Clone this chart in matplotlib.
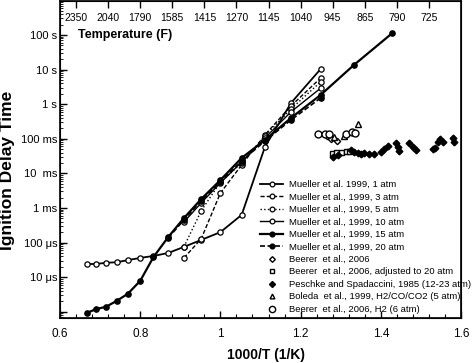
import matplotlib
matplotlib.use("Agg")
import matplotlib.pyplot as plt
from matplotlib.ticker import FixedLocator, FixedFormatter, MultipleLocator, LogLocator, NullFormatter

plt.rcParams['font.family'] = ['Liberation Sans', 'DejaVu Sans']

# ---- data ----
x_model = [0.667, 0.690, 0.714, 0.741, 0.769, 0.800, 0.833, 0.870, 0.909, 0.952,
           1.000, 1.053, 1.111, 1.176, 1.250]
t_1atm = [2.4e-5, 2.4e-5, 2.6e-5, 2.7e-5, 3.1e-5, 3.6e-5, 4.1e-5, 5.0e-5, 7.5e-5,
          1.19e-4, 2.0e-4, 6.3e-4, 0.058, 1.08, 10.4]
x_3atm = [0.909, 0.952, 1.000, 1.053, 1.111, 1.176, 1.250]
t_3atm = [3.6e-5, 1.27e-4, 2.7e-3, 0.0175, 0.129, 0.89, 5.7]
x_5atm = [0.909, 0.952, 1.000, 1.053, 1.111, 1.176, 1.250]
t_5atm = [7.5e-5, 8.2e-4, 5.6e-3, 0.020, 0.12, 0.73, 4.4]
x_10atm = [0.909, 0.952, 1.000, 1.053, 1.111, 1.176, 1.250]
t_10atm = [3.9e-4, 1.4e-3, 5.3e-3, 0.0213, 0.105, 0.60, 2.9]
x_15atm = [0.667, 0.690, 0.714, 0.741, 0.769, 0.800, 0.833, 0.870, 0.909, 0.952,
           1.000, 1.053, 1.111, 1.176, 1.250, 1.333, 1.429]
t_15atm = [9.2e-7, 1.2e-6, 1.38e-6, 2.05e-6, 3.3e-6, 7.8e-6, 3.8e-5, 1.45e-4, 5.1e-4,
           1.8e-3, 6.4e-3, 0.0279, 0.092, 0.40, 1.85, 13.6, 114.0]
x_20atm = [0.870, 0.909, 0.952, 1.000, 1.053, 1.111, 1.176, 1.250]
t_20atm = [1.36e-4, 4.5e-4, 1.6e-3, 5.6e-3, 0.0228, 0.086, 0.35, 1.51]

x_beerer = [1.265, 1.275, 1.29]
t_beerer = [0.121, 0.099, 0.086]
x_beerer_adj = [1.2775, 1.2875, 1.300, 1.3125, 1.320]
t_beerer_adj = [0.0389, 0.0415, 0.0415, 0.0444, 0.0444]
x_peschke = [1.280, 1.2925, 1.325, 1.3325, 1.3425, 1.350, 1.3575, 1.370, 1.3825, 1.400,
             1.4075, 1.4175, 1.4375, 1.4425, 1.445, 1.470, 1.480, 1.4875, 1.530, 1.535,
             1.5425, 1.5475, 1.555, 1.580, 1.5825]
t_peschke = [0.0298, 0.034, 0.0475, 0.0415, 0.0389, 0.0364, 0.0389, 0.0364, 0.0364, 0.0415,
             0.0507, 0.062, 0.0757, 0.058, 0.0444, 0.0757, 0.058, 0.0475, 0.0507, 0.0554,
             0.0809, 0.0986, 0.0809, 0.105, 0.0809]
x_boleda = [1.2825, 1.3075, 1.3425]
t_boleda = [0.11, 0.121, 0.268]
x_h2 = [1.2425, 1.260, 1.270, 1.3125, 1.3275, 1.335]
t_h2 = [0.138, 0.138, 0.138, 0.138, 0.157, 0.147]

top_tick_pos = [0.64, 0.72, 0.80, 0.88, 0.96, 1.04, 1.12, 1.20, 1.28, 1.36, 1.44, 1.52]
top_tick_labels = ['2350', '2040', '1790', '1585', '1415', '1270', '1145', '1040',
                   '945', '865', '790', '725']
y_tick_pos = [1e-6, 1e-5, 1e-4, 1e-3, 1e-2, 1e-1, 1e0, 1e1, 1e2, 1e3]
y_tick_labels = ['', '10 \u03bcs', '100 \u03bcs', '1 ms', '10  ms', '100 ms', '1 s',
                 '10 s', '100 s', '']
x_tick_pos = [0.6, 0.8, 1.0, 1.2, 1.4, 1.6]
x_tick_labels = ['0.6', '0.8', '1', '1.2', '1.4', '1.6']

W, H = 474, 363
fig = plt.figure(figsize=(W / 100, H / 100), dpi=100)
ax = fig.add_axes([60 / W, (H - 318) / H, 401 / W, 317 / H])
ax.set_yscale('log')
ax.set_xlim(0.6, 1.6)
ax.set_ylim(6.6e-7, 960)

ms = 3.8
openkw = dict(marker='o', markersize=ms, markerfacecolor='white', markeredgecolor='black',
              markeredgewidth=0.9, color='black')
fillkw = dict(marker='o', markersize=ms, markerfacecolor='black', markeredgecolor='black',
              color='black')
ax.plot(x_model, t_1atm, '-', lw=1.3, label='Mueller et al. 1999, 1 atm', **openkw)
ax.plot(x_3atm, t_3atm, '--', lw=1.0, dashes=(3, 1.5), label='Mueller et al., 1999, 3 atm', **openkw)
ax.plot(x_5atm, t_5atm, ':', lw=1.0, label='Mueller et al., 1999, 5 atm', **openkw)
ax.plot(x_10atm, t_10atm, '-', lw=1.0, label='Mueller et al., 1999, 10 atm', **openkw)
ax.plot(x_15atm, t_15atm, '-', lw=1.6, label='Mueller et al., 1999, 15 atm', **fillkw)
ax.plot(x_20atm, t_20atm, '--', lw=1.2, dashes=(3, 1.5), label='Mueller et al., 1999, 20 atm', **fillkw)

ax.plot(x_beerer, t_beerer, linestyle='none', marker='D', markersize=3.2, markerfacecolor='white',
        markeredgecolor='black', markeredgewidth=1.0, label='Beerer  et al., 2006')
ax.plot(x_beerer_adj, t_beerer_adj, linestyle='none', marker='s', markersize=3.6,
        markerfacecolor='white', markeredgecolor='black', markeredgewidth=1.0,
        label='Beerer  et al., 2006, adjusted to 20 atm')
ax.plot(x_peschke, t_peschke, linestyle='none', marker='D', markersize=3.4, markerfacecolor='black',
        markeredgecolor='black', label='Peschke and Spadaccini, 1985 (12-23 atm)')
ax.plot(x_boleda, t_boleda, linestyle='none', marker='^', markersize=3.8, markerfacecolor='white',
        markeredgecolor='black', markeredgewidth=1.0,
        label='Boleda  et al., 1999, H2/CO/CO2 (5 atm)')
ax.plot(x_h2, t_h2, linestyle='none', marker='o', markersize=5.0, markerfacecolor='white',
        markeredgecolor='black', markeredgewidth=1.0, label='Beerer  et al., 2006, H2 (6 atm)')

# ticks
ax.xaxis.set_major_locator(FixedLocator(x_tick_pos))
ax.xaxis.set_major_formatter(FixedFormatter(x_tick_labels))
ax.xaxis.set_minor_locator(MultipleLocator(0.04))
ax.yaxis.set_major_locator(FixedLocator(y_tick_pos))
ax.yaxis.set_major_formatter(FixedFormatter(y_tick_labels))
ax.yaxis.set_minor_locator(LogLocator(base=10, subs=[2, 3, 4, 5, 6, 7, 8, 9], numticks=20))
ax.yaxis.set_minor_formatter(NullFormatter())
ax.tick_params(axis='both', which='both', direction='in', top=False, right=False, color='black')
ax.tick_params(axis='x', which='major', length=5, width=1.0, labelsize=8.5, pad=7)
ax.tick_params(axis='x', which='minor', length=3, width=0.8)
ax.tick_params(axis='y', which='major', length=5, width=1.0, labelsize=8, pad=2)
ax.tick_params(axis='y', which='minor', length=2.5, width=0.6)
for s in ax.spines.values():
    s.set_linewidth(1.2)

ax2 = ax.twiny()
ax2.set_xlim(ax.get_xlim())
ax2.xaxis.set_major_locator(FixedLocator(top_tick_pos))
ax2.xaxis.set_major_formatter(FixedFormatter(top_tick_labels))
ax2.tick_params(axis='x', direction='in', length=5, width=1.0, labelsize=7.5, pad=-16)

fig.text(78 / W, 1 - 35 / H, 'Temperature (F)', fontsize=9, fontweight='bold',
         ha='left', va='center')
fig.text(8 / W, 1 - 170 / H, 'Ignition Delay Time', fontsize=12.5, fontweight='bold',
         rotation=90, ha='center', va='center')
fig.text(266 / W, 1 - 355 / H, '1000/T (1/K)', fontsize=10, fontweight='bold',
         ha='center', va='center')

leg = ax.legend(loc='upper left', bbox_to_anchor=((260 - 60) / 401, (318 - 180) / 317),
                frameon=False, fontsize=6.8, handlelength=2.45, handletextpad=0.65,
                labelspacing=0.37, borderpad=0, borderaxespad=0, markerscale=0.9)

fig.savefig('out.png', dpi=100)
